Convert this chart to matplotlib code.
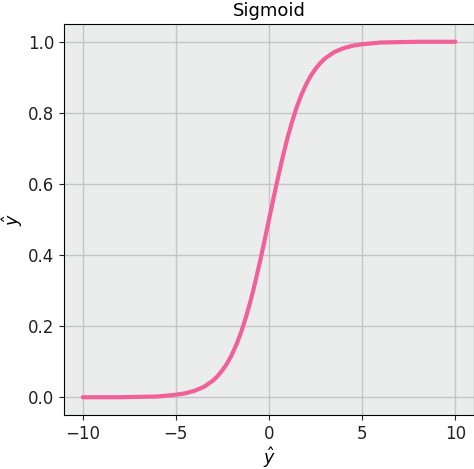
import matplotlib
matplotlib.use("Agg")
import matplotlib.pyplot as plt

# Values
x_vals = [-10, -9, -8, -7, -6, -5, -4.5, -4, -3.5, -3, -2.75, -2.5, -2.25, -2, -1.75,
          -1.5, -1.25, -1, -0.75, -0.5, -0.25, 0, 0.25, 0.5, 0.75, 1, 1.25, 1.5, 1.75,
          2, 2.25, 2.5, 2.75, 3, 3.5, 4, 4.5, 5, 6, 7, 8, 9, 10]
y_vals = [0.000, 0.000, 0.000, 0.001, 0.002, 0.007, 0.011, 0.018, 0.029, 0.047, 0.060,
          0.076, 0.095, 0.119, 0.148, 0.182, 0.223, 0.269, 0.321, 0.378, 0.438, 0.500,
          0.562, 0.622, 0.679, 0.731, 0.777, 0.818, 0.852, 0.881, 0.905, 0.924, 0.940,
          0.953, 0.971, 0.982, 0.989, 0.993, 0.998, 0.999, 1.000, 1.000, 1.000]
x_ticks = [-10, -5, 0, 5, 10]
y_ticks = [0.0, 0.2, 0.4, 0.6, 0.8, 1.0]

fig = plt.figure(figsize=(4.74, 4.69), dpi=100)
ax = fig.add_axes([64/474, (469-415)/469, (474-64)/474, (415-24)/469])
ax.set_facecolor("#EBEDED")
ax.grid(True, color="#C4C6C6", linewidth=1.0)
ax.set_axisbelow(True)
ax.plot(x_vals, y_vals, color="#F2609A", linewidth=3, solid_capstyle="round")
ax.set_xlim(-11, 11)
ax.set_ylim(-0.05, 1.05)
ax.set_xticks(x_ticks)
ax.set_yticks(y_ticks)
ax.set_yticklabels([f"{v:.1f}" for v in y_ticks])
ax.tick_params(labelsize=12, colors="#222222")
ax.set_xlabel(r"$\hat{y}$", fontsize=12.5, labelpad=2)
ax.set_ylabel(r"$\hat{y}$", fontsize=12.5, labelpad=2)
ax.set_title("Sigmoid", fontsize=13, pad=6)
fig.savefig("out.png", dpi=100)
